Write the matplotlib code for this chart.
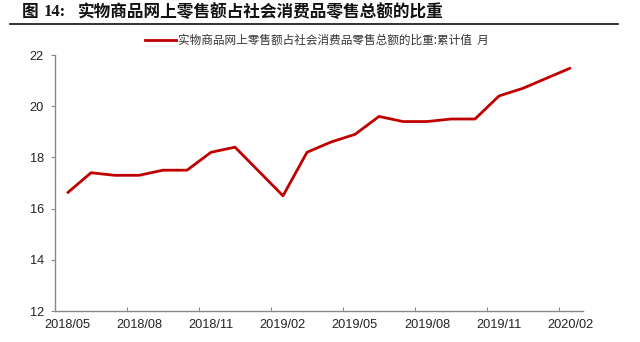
import numpy as np
import matplotlib
matplotlib.use("Agg")
import matplotlib.pyplot as plt
from matplotlib.lines import Line2D

plt.rcParams['font.family'] = ['Noto Sans CJK SC', 'DejaVu Sans']

months = ["2018/05", "2018/06", "2018/07", "2018/08", "2018/09", "2018/10",
          "2018/11", "2018/12", "2019/01", "2019/02", "2019/03", "2019/04",
          "2019/05", "2019/06", "2019/07", "2019/08", "2019/09", "2019/10",
          "2019/11", "2019/12", "2020/01", "2020/02"]
share = [16.6, 17.4, 17.3, 17.3, 17.5, 17.5,
         18.2, 18.4, np.nan, 16.5, 18.2, 18.6,
         18.9, 19.6, 19.4, 19.4, 19.5, 19.5,
         20.4, 20.7, np.nan, 21.5]
series_name = "实物商品网上零售额占社会消费品零售总额的比重:累计值  月"
title_head = "图"
title_num = "14:"
title_body = "实物商品网上零售额占社会消费品零售总额的比重"
yticks = [12, 14, 16, 18, 20, 22]

W, H = 640, 342
fig = plt.figure(figsize=(W / 100, H / 100), dpi=100)
ax = fig.add_axes([55 / W, 1 - 311 / H, (583 - 55) / W, (311 - 55) / H])

x = np.arange(len(months))
v = np.array(share, dtype=float)
mask = ~np.isnan(v)
ax.plot(x[mask], v[mask], color="#C00000", lw=2.0, solid_capstyle="butt")

tick_font = dict(family=["Liberation Sans", "DejaVu Sans"], size=9.2, color="#222222")

ax.set_xlim(-0.5, len(months) - 0.5)
ax.set_ylim(12, 22)
ax.set_yticks(yticks)
ax.set_yticklabels([str(t) for t in yticks], **tick_font)

label_idx = list(range(0, len(months), 3))
ax.set_xticks([i - 0.5 for i in label_idx])
ax.set_xticklabels([])
ax.set_xticks(label_idx, minor=True)
ax.set_xticklabels([months[i] for i in label_idx], minor=True, **tick_font)
ax.tick_params(axis="x", which="major", length=3, direction="in", color="#888888")
ax.tick_params(axis="x", which="minor", length=0, pad=6)
ax.tick_params(axis="y", length=3, direction="out", color="#888888", pad=5)

for s in ["top", "right"]:
    ax.spines[s].set_visible(False)
for s in ["left", "bottom"]:
    ax.spines[s].set_color("#888888")
    ax.spines[s].set_linewidth(1.0)

# title and rule
ty = 1 - 12 / H
fig.text(22 / W, ty, title_head, fontsize=12, fontweight="bold",
         ha="left", va="center", color="#111111")
fig.text(44 / W, ty, title_num, fontsize=12, fontweight="bold",
         family=["Liberation Serif", "DejaVu Serif"],
         ha="left", va="center", color="#111111")
fig.text(78 / W, ty, title_body, fontsize=12, fontweight="bold",
         ha="left", va="center", color="#111111")
fig.add_artist(Line2D([10 / W, 618 / W], [1 - 24 / H, 1 - 24 / H],
                      color="#111111", lw=1.2))

# legend
fig.add_artist(Line2D([145 / W, 176 / W], [1 - 40 / H, 1 - 40 / H],
                      color="#C00000", lw=2.0))
fig.text(178 / W, 1 - 40 / H, series_name, fontsize=8.4, ha="left", va="center",
         color="#333333")

fig.savefig("out.png", dpi=100)
